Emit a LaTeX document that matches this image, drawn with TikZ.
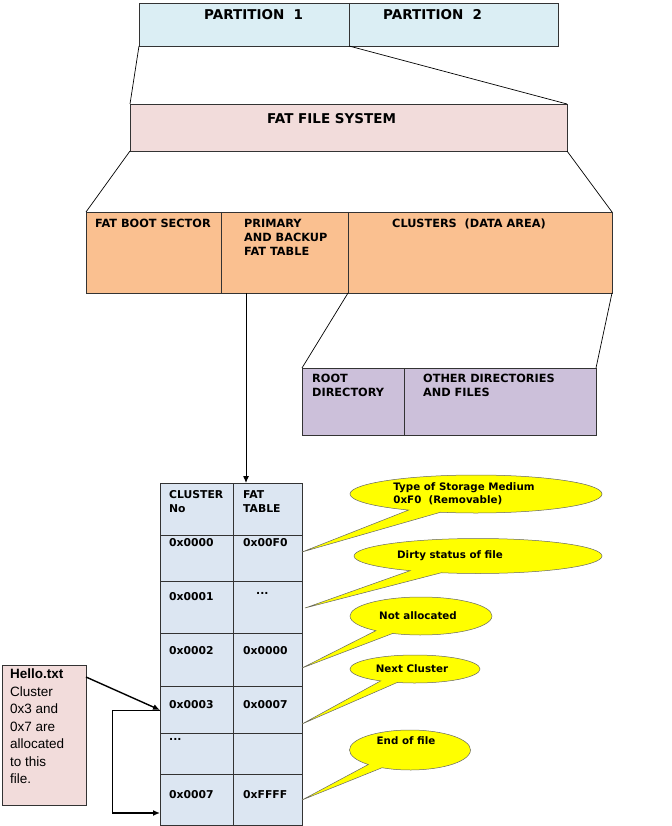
\documentclass[tikz,border=0pt]{standalone}
\usepackage{fontspec}
\setmainfont{DejaVu Sans}
\newfontfamily\hellofont{Liberation Sans}
\usetikzlibrary{shapes.callouts,positioning,arrows.meta}
\definecolor{partblue}{HTML}{DBEEF4}
\definecolor{fatpink}{HTML}{F2DCDB}
\definecolor{bootorange}{HTML}{FAC090}
\definecolor{dirlilac}{HTML}{CCC0DA}
\definecolor{tableblue}{HTML}{DCE6F2}
\definecolor{noteyellow}{HTML}{FFFF00}
\begin{document}
\begin{tikzpicture}[x=1pt,y=-1pt]
    % styles
    \tikzset{
        box/.style={draw=black!80, line width=0.7pt},
        lbl/.style={anchor=north west, inner sep=0pt, font=\fontsize{13.5}{16}\selectfont\bfseries, align=left},
        cell/.style={anchor=north west, inner sep=0pt, font=\fontsize{11.3}{14}\selectfont\bfseries, align=left},
        tcell/.style={anchor=north west, inner sep=0pt, font=\fontsize{10.8}{14}\selectfont\bfseries, align=left},
        note/.style={ellipse callout, draw=black!60, fill=noteyellow, line width=0.5pt, inner sep=0pt,
            callout pointer arc=16, font=\fontsize{10.3}{13.5}\selectfont\bfseries, align=left},
        link/.style={draw=black, line width=0.7pt},
        tip/.style={-{Latex[length=7pt,width=6pt]}}
    }
    \useasboundingbox (0,0) rectangle (671,826);

    % partitions
    \fill[partblue] (139,3) rectangle (558,46);
    \draw[box] (139,3) rectangle (558,46);
    \draw[box] (349,3) -- (349,46);
    \node[lbl] (p1) at (204,9) {PARTITION\ \ 1};
    \node[lbl] (p2) at (383,9) {PARTITION\ \ 2};
    \coordinate (pbl) at (139,46);
    \coordinate (pbm) at (349,46);

    % fat file system
    \fill[fatpink] (130,104) rectangle (567,151);
    \draw[box] (130,104) rectangle (567,151);
    \node[lbl] (fs) at (267,113) {FAT FILE SYSTEM};
    \coordinate (fstl) at (130,104);
    \coordinate (fstr) at (567,104);
    \coordinate (fsbl) at (130,151);
    \coordinate (fsbr) at (567,151);
    \draw[link] (pbl) -- (fstl);
    \draw[link] (pbm) -- (fstr);

    % volume layout
    \fill[bootorange] (86,212) rectangle (612,293);
    \draw[box] (86,212) rectangle (612,293);
    \draw[box] (221,212) -- (221,293);
    \draw[box] (348,212) -- (348,293);
    \node[cell] (boot) at (95,219) {FAT BOOT SECTOR};
    \node[cell] (prim) at (244,219) {PRIMARY\\AND BACKUP\\FAT TABLE};
    \node[cell] (clus) at (392,219) {CLUSTERS\ \ (DATA AREA)};
    \coordinate (vtl) at (86,212);
    \coordinate (vtr) at (612,212);
    \coordinate (vbm) at (348,293);
    \coordinate (vbr) at (612,293);
    \coordinate (vfat) at (246,293);
    \draw[link] (fsbl) -- (vtl);
    \draw[link] (fsbr) -- (vtr);

    % data area
    \fill[dirlilac] (302,368) rectangle (596,435);
    \draw[box] (302,368) rectangle (596,435);
    \draw[box] (404,368) -- (404,435);
    \node[cell] (root) at (312,374) {ROOT\\DIRECTORY};
    \node[cell] (other) at (423,374) {OTHER DIRECTORIES\\AND FILES};
    \draw[link] (vbm) -- (302,368);
    \draw[link] (vbr) -- (596,368);

    % fat table
    \fill[tableblue] (160,483) rectangle (302,825);
    \draw[box] (160,483) rectangle (302,825);
    \draw[box] (233,483) -- (233,825);
    \foreach \y in {535,581,633,686,733,774}
        \draw[box] (160,\y) -- (302,\y);
    \coordinate (ttop) at (246,483);
    \draw[link, line width=1pt, tip] (vfat) -- (ttop);
    \node[tcell] (hc) at (169,490) {CLUSTER\\No};
    \node[tcell] (hf) at (243,490) {FAT\\TABLE};
    \node[tcell] (c0) at (169,538) {0x0000};
    \node[tcell] (f0) at (243,538) {0x00F0};
    \node[tcell] (c1) at (169,592) {0x0001};
    \node[tcell] (f1) at (256,592) {...};
    \node[tcell] (c2) at (169,646) {0x0002};
    \node[tcell] (f2) at (243,646) {0x0000};
    \node[tcell] (c3) at (169,700) {0x0003};
    \node[tcell] (f3) at (243,700) {0x0007};
    \node[tcell] (c4) at (169,738) {...};
    \node[tcell] (c7) at (169,790) {0x0007};
    \node[tcell] (f7) at (243,790) {0xFFFF};

    % notes
    \node[note, minimum width=252, minimum height=38, callout absolute pointer={(302,552)}] (n0) at (476,494) {Type of Storage Medium\hspace*{24pt}\\0xF0\ \ (Removable)};
    \node[note, minimum width=248, minimum height=35, callout absolute pointer={(305,608)}] (n1) at (478,556) {Dirty status of file\hspace*{56pt}};
    \node[note, minimum width=142, minimum height=38, callout absolute pointer={(302,668)}] (n2) at (421,616) {Not allocated\hspace*{6pt}};
    \node[note, minimum width=130, minimum height=28, callout absolute pointer={(302,724)}] (n3) at (415,669) {Next Cluster\hspace*{6pt}};
    \node[note, minimum width=121, minimum height=40, callout absolute pointer={(302,800)}] (n4) at (410,750) {End of file\hspace*{8pt}\\[6pt]};

    % file entry
    \fill[fatpink] (2,665) rectangle (86,805);
    \draw[box] (2,665) rectangle (86,805);
    \node[anchor=north west, inner sep=0pt, align=left, font=\hellofont\fontsize{13.5}{17.5}\selectfont] (hello) at (10,669)
        {\textbf{Hello.txt}\\Cluster\\0x3 and\\0x7 are\\allocated\\to this\\file.};
    \coordinate (hout) at (86,677);
    \coordinate (in3) at (160,710);
    \coordinate (in7) at (160,813);
    \draw[link, line width=1.4pt, tip] (hout) -- (in3);
    \draw[link] (in3) -- (112,710) -- (112,813);
    \draw[link, line width=1.4pt, tip] (112,813) -- (in7);
\end{tikzpicture}
\end{document}
